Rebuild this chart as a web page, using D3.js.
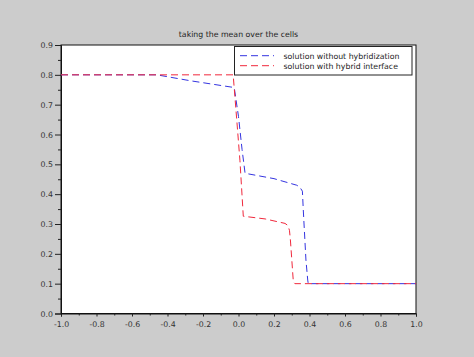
<!DOCTYPE html>
<html>
<head>
<meta charset="utf-8">
<script src="https://cdn.jsdelivr.net/npm/d3@7"></script>
<style>
  html, body { margin: 0; padding: 0; background: #cccccc; }
  svg { display: block; }
  text { font-family: "DejaVu Sans", sans-serif; }
</style>
</head>
<body>
<script>
const titleText = "taking the mean over the cells";
const seriesNames = ["solution without hybridization", "solution with hybrid interface"];
const seriesColors = ["#3434e0", "#f0283c"];

const blueX = [-1, -0.46, -0.27, -0.03, -0.024, 0.0, 0.02, 0.037, 0.2, 0.328, 0.345, 0.36, 0.365, 0.38, 0.39, 0.393, 1];
const blueY = [0.8, 0.8, 0.78, 0.758, 0.757, 0.66, 0.55, 0.47, 0.452, 0.43, 0.424, 0.41, 0.347, 0.179, 0.112, 0.1, 0.1];

const redX = [-1, -0.03, -0.01, 0.008, 0.027, 0.15, 0.262, 0.278, 0.287, 0.292, 0.309, 0.318, 1];
const redY = [0.8, 0.8, 0.65, 0.514, 0.326, 0.317, 0.302, 0.295, 0.279, 0.25, 0.106, 0.1, 0.1];

const xTicks = [-1.0, -0.8, -0.6, -0.4, -0.2, 0.0, 0.2, 0.4, 0.6, 0.8, 1.0];
const xMinorTicks = [-0.9, -0.7, -0.5, -0.3, -0.1, 0.1, 0.3, 0.5, 0.7, 0.9];
const yTicks = [0.0, 0.1, 0.2, 0.3, 0.4, 0.5, 0.6, 0.7, 0.8, 0.9];
const yMinorTicks = [0.05, 0.15, 0.25, 0.35, 0.45, 0.55, 0.65, 0.75, 0.85];

const W = 474, H = 357;
const L = 61, R = 416, T = 45, B = 313.5;

const svg = d3.select("body").append("svg").attr("width", W).attr("height", H);
svg.append("rect").attr("width", W).attr("height", H).attr("fill", "#cccccc");

const x = d3.scaleLinear().domain([-1, 1]).range([L, R]);
const y = d3.scaleLinear().domain([0, 0.9]).range([B, T]);

svg.append("rect").attr("x", L).attr("y", T).attr("width", R - L).attr("height", B - T)
  .attr("fill", "#ffffff").attr("stroke", "#111").attr("stroke-width", 1);

// axes (ASCII hyphen for minus)
const fmt = d3.formatLocale({decimal: ".", thousands: ",", grouping: [3], currency: ["", ""], minus: "-"}).format(".1f");
svg.append("g").attr("transform", `translate(0,${B})`)
  .call(d3.axisBottom(x).tickValues(xTicks).tickFormat(fmt).tickSize(3).tickPadding(5));
svg.append("g").attr("transform", `translate(0,${B})`)
  .call(d3.axisBottom(x).tickValues(xMinorTicks).tickFormat("").tickSize(2))
  .select(".domain").remove();
svg.append("g").attr("transform", `translate(${L},0)`)
  .call(d3.axisLeft(y).tickValues(yTicks).tickFormat(fmt).tickSize(6).tickPadding(2));
svg.append("g").attr("transform", `translate(${L},0)`)
  .call(d3.axisLeft(y).tickValues(yMinorTicks).tickFormat("").tickSize(3))
  .select(".domain").remove();

svg.selectAll(".tick text").attr("font-family", "DejaVu Sans").attr("font-size", 7.8).attr("fill", "#333");
svg.selectAll(".tick line").attr("stroke", "#222");
svg.selectAll(".domain").attr("stroke", "#111");

// title
svg.append("text").attr("x", (L + R) / 2).attr("y", 37).attr("text-anchor", "middle")
  .attr("font-size", 7.8).attr("fill", "#222").text(titleText);

// lines
const line = d3.line().x(d => x(d[0])).y(d => y(d[1]));
const series = [
  d3.zip(blueX, blueY),
  d3.zip(redX, redY)
];
series.forEach((s, i) => {
  svg.append("path").datum(s).attr("d", line).attr("fill", "none")
    .attr("stroke", seriesColors[i]).attr("stroke-width", 1)
    .attr("stroke-dasharray", "7,4");
});

// legend
const lg = svg.append("g");
lg.append("rect").attr("x", 234.5).attr("y", 46.5).attr("width", 177.5).attr("height", 28.5)
  .attr("fill", "#ffffff").attr("stroke", "#222").attr("stroke-width", 1);
seriesNames.forEach((n, i) => {
  const yy = 55.7 + i * 10;
  lg.append("line").attr("x1", 240).attr("x2", 274).attr("y1", yy).attr("y2", yy)
    .attr("stroke", seriesColors[i]).attr("stroke-width", 1).attr("stroke-dasharray", "7,4");
  lg.append("text").attr("x", 283.5).attr("y", yy + 2.8).attr("font-size", 7.8)
    .attr("fill", "#222").text(n);
});
</script>
</body>
</html>
